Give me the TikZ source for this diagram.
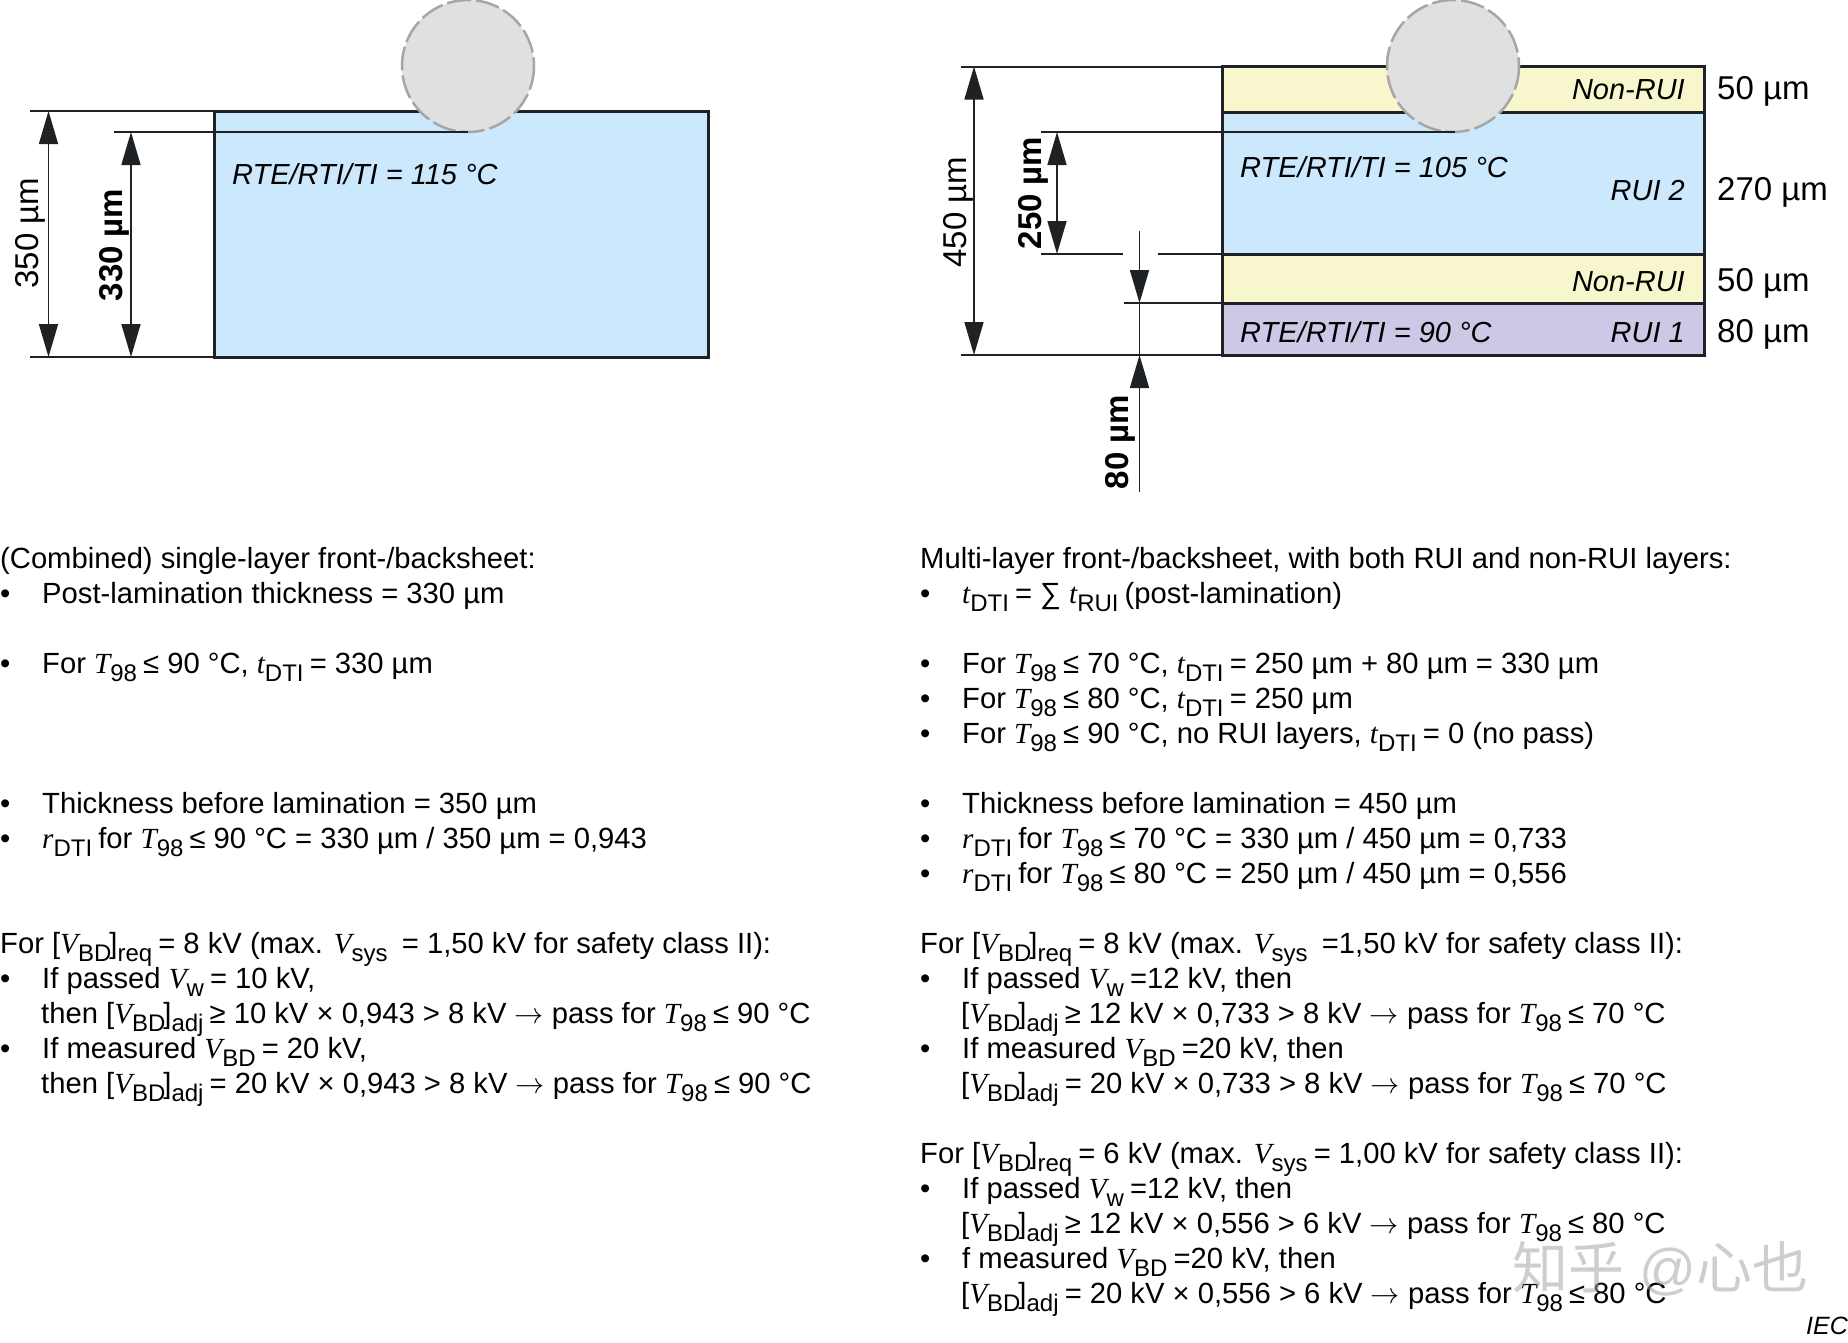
\documentclass[tikz,border=0pt]{standalone}
\usepackage{fix-cm}
\usepackage{fontspec}
\setmainfont{Liberation Sans}
\newfontfamily\varfont{Liberation Serif}
\newfontfamily\cjk{Noto Sans CJK SC}
\usepackage{xcolor}
\usetikzlibrary{arrows.meta}
\definecolor{layerblue}{HTML}{CCE8FC}
\definecolor{layeryellow}{HTML}{F8F6CC}
\definecolor{layerpurple}{HTML}{CBC9E6}
\definecolor{inkline}{HTML}{1E2225}
\newcommand{\vrb}[1]{{\varfont\itshape #1}}
\newcommand{\sbs}[1]{\raisebox{-0.3em}{\fontsize{24}{27}\selectfont #1}\hspace*{-2pt}}
\newcommand{\bull}{\makebox[42pt][l]{•}}
\newcommand{\goes}{$\rightarrow$}
\newcommand{\Tn}{\vrb{T}\sbs{98}}
\newcommand{\tD}{\vrb{t}\sbs{DTI}}
\newcommand{\rD}{\vrb{r}\sbs{DTI}}
\newcommand{\VB}{\vrb{V}\sbs{BD}}
\newcommand{\VBadj}{[\VB]\sbs{adj}}
\newcommand{\VBreq}{[\VB]\sbs{req}}
\newcommand{\Vs}{\vrb{V}\sbs{sys}}
\newcommand{\Vw}{\vrb{V}\sbs{w}}
\tikzset{
	row/.style={anchor=base west, inner sep=0pt, font=\fontsize{29.2}{34}\selectfont},
	rowr/.style={anchor=base east, inner sep=0pt, font=\fontsize{29}{34}\selectfont\itshape},
	layertext/.style={anchor=base west, inner sep=0pt, font=\fontsize{29}{34}\selectfont\itshape},
	dimtext/.style={inner sep=0pt, rotate=90, font=\fontsize{33}{38}\selectfont},
	dimbold/.style={inner sep=0pt, rotate=90, font=\fontsize{33}{38}\selectfont\bfseries},
	sizetext/.style={anchor=base west, inner sep=0pt, font=\fontsize{33}{38}\selectfont},
	layer/.style={draw=inkline, line width=3pt},
	ext/.style={draw=inkline, line width=2pt},
	dim/.style={draw=inkline, line width=1.6pt, {Triangle[width=19pt,length=33pt]}-{Triangle[width=19pt,length=33pt]}},
	dimend/.style={draw=inkline, line width=1.6pt, -{Triangle[width=19pt,length=33pt]}},
	ball/.style={draw=black!35, fill=black!12, line width=2.5pt, dash pattern=on 24pt off 5pt}
}
\begin{document}
\begin{tikzpicture}[x=1pt,y=-1pt]
	\useasboundingbox (0,0) rectangle (1848,1342);
	% left sheet
	\filldraw[layer, fill=layerblue] (214,111) rectangle (708,357);
	\draw[ball] (468,66) circle (66);
	\coordinate (a0) at (30,111);
	\coordinate (a1) at (214,111);
	\coordinate (a2) at (114,132);
	\coordinate (a3) at (468,132);
	\coordinate (a4) at (30,357);
	\coordinate (a5) at (214,357);
	\coordinate (d1) at (48.5,111);
	\coordinate (d2) at (48.5,357);
	\coordinate (d3) at (131,132);
	\coordinate (d4) at (131,357);
	\draw[ext] (a0) -- (a1);
	\draw[ext] (a2) -- (a3);
	\draw[ext] (a4) -- (a5);
	\draw[dim] (d1) -- (d2);
	\draw[dim] (d3) -- (d4);
	\node[dimtext] (t350) at (30,233) {350 µm};
	\node[dimbold] (t330) at (114,245) {330 µm};
	\node[layertext] (rte115) at (232,184) {RTE/RTI/TI = 115 °C};
	% right sheet
	\filldraw[layer, fill=layeryellow] (1222,66.5) rectangle (1704,112);
	\filldraw[layer, fill=layerblue] (1222,112) rectangle (1704,254);
	\filldraw[layer, fill=layeryellow] (1222,254) rectangle (1704,303);
	\filldraw[layer, fill=layerpurple] (1222,303) rectangle (1704,355);
	\draw[ball] (1453,66) circle (66);
	\coordinate (b0) at (961,66.5);
	\coordinate (b1) at (1222,66.5);
	\coordinate (b2) at (1041,132);
	\coordinate (b3) at (1455,132);
	\coordinate (b4) at (1041,254);
	\coordinate (b5) at (1123,254);
	\coordinate (b6) at (1158,254);
	\coordinate (b7) at (1222,254);
	\coordinate (b8) at (1124,303);
	\coordinate (b9) at (1222,303);
	\coordinate (b10) at (961,355);
	\coordinate (b11) at (1222,355);
	\coordinate (e1) at (974,66.5);
	\coordinate (e2) at (974,355);
	\coordinate (e3) at (1057,132);
	\coordinate (e4) at (1057,254);
	\coordinate (e5) at (1139.5,231);
	\coordinate (e6) at (1139.5,303);
	\coordinate (e7) at (1139.5,355);
	\coordinate (e8) at (1139.5,492);
	\draw[ext] (b0) -- (b1);
	\draw[ext] (b2) -- (b3);
	\draw[ext] (b4) -- (b5);
	\draw[ext] (b6) -- (b7);
	\draw[ext] (b8) -- (b9);
	\draw[ext] (b10) -- (b11);
	\draw[dim] (e1) -- (e2);
	\draw[dim] (e3) -- (e4);
	\draw[dimend] (e5) -- (e6);
	\draw[ext, line width=1.6pt] (e6) -- (e7);
	\draw[dimend] (e8) -- (e7);
	\node[dimtext] (t450) at (958,212) {450 µm};
	\node[dimbold] (t250) at (1033,193) {250 µm};
	\node[dimbold] (t80) at (1120,442) {80 µm};
	\node[rowr] (nr1) at (1685,99) {Non-RUI};
	\node[rowr] (rui2) at (1685,200) {RUI 2};
	\node[rowr] (nr2) at (1685,291) {Non-RUI};
	\node[rowr] (rui1) at (1685,342) {RUI 1};
	\node[layertext] (rte105) at (1240,177) {RTE/RTI/TI = 105 °C};
	\node[layertext] (rte90) at (1240,342) {RTE/RTI/TI = 90 °C};
	\node[sizetext] (s50a) at (1717,99) {50 µm};
	\node[sizetext] (s270) at (1717,200) {270 µm};
	\node[sizetext] (s50b) at (1717,291) {50 µm};
	\node[sizetext] (s80) at (1717,342) {80 µm};
	% left text
	\node[row] (l0) at (0,568) {(Combined) single-layer front-/backsheet:};
	\node[row] (l1) at (0,603) {\bull Post-lamination thickness = 330 µm};
	\node[row] (l3) at (0,673) {\bull For \Tn{} ≤ 90 °C, \tD{} = 330 µm};
	\node[row] (l7) at (0,813) {\bull Thickness before lamination = 350 µm};
	\node[row] (l8) at (0,848) {\bull \rD{} for \Tn{} ≤ 90 °C = 330 µm / 350 µm = 0,943};
	\node[row] (l11) at (0,953) {For \VBreq{} = 8 kV (max. \Vs{}\ \ = 1,50 kV for safety class II):};
	\node[row] (l12) at (0,988) {\bull If passed \Vw{} = 10 kV,};
	\node[row] (l13) at (41,1023) {then \VBadj{} ≥ 10 kV × 0,943 > 8 kV \goes{} pass for \Tn{} ≤ 90 °C};
	\node[row] (l14) at (0,1058) {\bull If measured \VB{} = 20 kV,};
	\node[row] (l15) at (41,1093) {then \VBadj{} = 20 kV × 0,943 > 8 kV \goes{} pass for \Tn{} ≤ 90 °C};
	% right text
	\node[row] (r0) at (920,568) {Multi-layer front-/backsheet, with both RUI and non-RUI layers:};
	\node[row] (r1) at (920,603) {\bull \tD{} = ∑ \vrb{t}\sbs{RUI} (post-lamination)};
	\node[row] (r3) at (920,673) {\bull For \Tn{} ≤ 70 °C, \tD{} = 250 µm + 80 µm = 330 µm};
	\node[row] (r4) at (920,708) {\bull For \Tn{} ≤ 80 °C, \tD{} = 250 µm};
	\node[row] (r5) at (920,743) {\bull For \Tn{} ≤ 90 °C, no RUI layers, \tD{} = 0 (no pass)};
	\node[row] (r7) at (920,813) {\bull Thickness before lamination = 450 µm};
	\node[row] (r8) at (920,848) {\bull \rD{} for \Tn{} ≤ 70 °C = 330 µm / 450 µm = 0,733};
	\node[row] (r9) at (920,883) {\bull \rD{} for \Tn{} ≤ 80 °C = 250 µm / 450 µm = 0,556};
	\node[row] (r11) at (920,953) {For \VBreq{} = 8 kV (max. \Vs{}\ \ =1,50 kV for safety class II):};
	\node[row] (r12) at (920,988) {\bull If passed \Vw{} =12 kV, then};
	\node[row] (r13) at (961,1023) {\VBadj{} ≥ 12 kV × 0,733 > 8 kV \goes{} pass for \Tn{} ≤ 70 °C};
	\node[row] (r14) at (920,1058) {\bull If measured \VB{} =20 kV, then};
	\node[row] (r15) at (961,1093) {\VBadj{} = 20 kV × 0,733 > 8 kV \goes{} pass for \Tn{} ≤ 70 °C};
	\node[row] (r17) at (920,1163) {For \VBreq{} = 6 kV (max. \Vs{} = 1,00 kV for safety class II):};
	\node[row] (r18) at (920,1198) {\bull If passed \Vw{} =12 kV, then};
	\node[row] (r19) at (961,1233) {\VBadj{} ≥ 12 kV × 0,556 > 6 kV \goes{} pass for \Tn{} ≤ 80 °C};
	\node[row] (r20) at (920,1268) {\bull f measured \VB{} =20 kV, then};
	\node[row] (r21) at (961,1303) {\VBadj{} = 20 kV × 0,556 > 6 kV \goes{} pass for \Tn{} ≤ 80 °C};
	\node[anchor=base east, inner sep=0pt, font=\fontsize{25}{28}\selectfont\itshape] (iec) at (1848,1334) {IEC};
	% mark over the text
	\node[anchor=base west, inner sep=0pt, text=black!35, opacity=.55, font=\fontsize{56}{62}\selectfont] (mark) at (1512,1288) {{\cjk 知乎} @{\cjk 心也}};
\end{tikzpicture}
\end{document}
